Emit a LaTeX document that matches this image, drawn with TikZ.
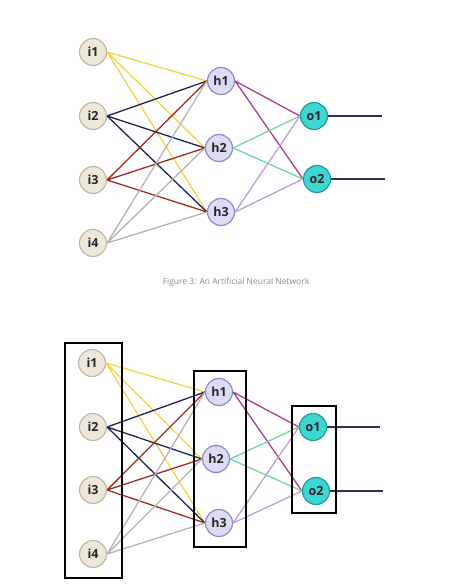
\documentclass[tikz,border=0pt]{standalone}
\usepackage{fontspec}
\setmainfont{Open Sans}
\usepackage{tikz}
\usepackage{xcolor}

\definecolor{inFill}{HTML}{EEE8DC}
\definecolor{inDraw}{HTML}{C4B8A4}
\definecolor{hidFill}{HTML}{DCDCF6}
\definecolor{hidDraw}{HTML}{8C8CC8}
\definecolor{outFill}{HTML}{3ED6D2}
\definecolor{outDraw}{HTML}{1F9C99}
\definecolor{wYellow}{HTML}{F2D448}
\definecolor{wNavy}{HTML}{1E2452}
\definecolor{wRed}{HTML}{9A2E24}
\definecolor{wGray}{HTML}{B4B4B4}
\definecolor{wMagenta}{HTML}{B23A8E}
\definecolor{wGreen}{HTML}{72D8A2}
\definecolor{wLilac}{HTML}{B9A2D4}
\definecolor{wOut}{HTML}{2C3254}
\definecolor{capGray}{HTML}{8A8A8A}

\tikzset{
  neuron/.style={circle, minimum size=27pt, inner sep=0pt, line width=1.2pt,
    text=black!85, font=\fontsize{12.5}{14}\selectfont\bfseries},
  inneuron/.style={neuron, draw=inDraw, fill=inFill},
  hidneuron/.style={neuron, draw=hidDraw, fill=hidFill},
  outneuron/.style={neuron, draw=outDraw, fill=outFill},
  wire/.style={line width=1.3pt},
  layerbox/.style={draw=black, line width=1.9pt}
}

\begin{document}
\begin{tikzpicture}[x=1pt,y=-1pt]
		\useasboundingbox (0,0) rectangle (474,586);
		% upper network
		\node[inneuron] (i1) at (93,52) {i1};
		\node[inneuron] (i2) at (93,116) {i2};
		\node[inneuron] (i3) at (93,180) {i3};
		\node[inneuron] (i4) at (93,243) {i4};
		\node[hidneuron] (h1) at (221,81) {h1};
		\node[hidneuron] (h2) at (219,148) {h2};
		\node[hidneuron] (h3) at (221,212) {h3};
		\node[outneuron] (o1) at (314,116) {o1};
		\node[outneuron] (o2) at (317,179) {o2};
		\coordinate (y1) at (382,116);
		\coordinate (y2) at (385,179);
		\draw[wire,wYellow] (i1.east)--(h1.west) (i1.east)--(h2.west) (i1.east)--(h3.west);
		\draw[wire,wNavy] (i2.east)--(h1.west) (i2.east)--(h2.west) (i2.east)--(h3.west);
		\draw[wire,wRed] (i3.east)--(h1.west) (i3.east)--(h2.west) (i3.east)--(h3.west);
		\draw[wire,wGray] (i4.east)--(h1.west) (i4.east)--(h2.west) (i4.east)--(h3.west);
		\draw[wire,wMagenta] (h1.east)--(o1.west) (h1.east)--(o2.west);
		\draw[wire,wGreen] (h2.east)--(o1.west) (h2.east)--(o2.west);
		\draw[wire,wLilac] (h3.east)--(o1.west) (h3.east)--(o2.west);
		\draw[wire,wOut,line width=1.6pt] (o1.east)--(y1) (o2.east)--(y2);
		\node[text=capGray, font=\fontsize{8.5}{10}\selectfont] (caption) at (236,282) {Figure 3: An Artificial Neural Network};
		% lower network, with layer boxes
		\node[inneuron] (bi1) at (92,363) {i1};
		\node[inneuron] (bi2) at (93,427) {i2};
		\node[inneuron] (bi3) at (93,490) {i3};
		\node[inneuron] (bi4) at (93,554) {i4};
		\node[hidneuron] (bh1) at (219,392) {h1};
		\node[hidneuron] (bh2) at (216,459) {h2};
		\node[hidneuron] (bh3) at (219,523) {h3};
		\node[outneuron] (bo1) at (313,427) {o1};
		\node[outneuron] (bo2) at (316,491) {o2};
		\coordinate (by1) at (380,427);
		\coordinate (by2) at (383,491);
		\draw[wire,wYellow] (bi1.east)--(bh1.west) (bi1.east)--(bh2.west) (bi1.east)--(bh3.west);
		\draw[wire,wNavy] (bi2.east)--(bh1.west) (bi2.east)--(bh2.west) (bi2.east)--(bh3.west);
		\draw[wire,wRed] (bi3.east)--(bh1.west) (bi3.east)--(bh2.west) (bi3.east)--(bh3.west);
		\draw[wire,wGray] (bi4.east)--(bh1.west) (bi4.east)--(bh2.west) (bi4.east)--(bh3.west);
		\draw[wire,wMagenta] (bh1.east)--(bo1.west) (bh1.east)--(bo2.west);
		\draw[wire,wGreen] (bh2.east)--(bo1.west) (bh2.east)--(bo2.west);
		\draw[wire,wLilac] (bh3.east)--(bo1.west) (bh3.east)--(bo2.west);
		\draw[wire,wOut,line width=1.6pt] (bo1.east)--(by1) (bo2.east)--(by2);
		\draw[layerbox] (65,343) rectangle (122,578);
		\draw[layerbox] (194,371) rectangle (246,547);
		\draw[layerbox] (292,406) rectangle (336,513);
	\end{tikzpicture}
\end{document}
